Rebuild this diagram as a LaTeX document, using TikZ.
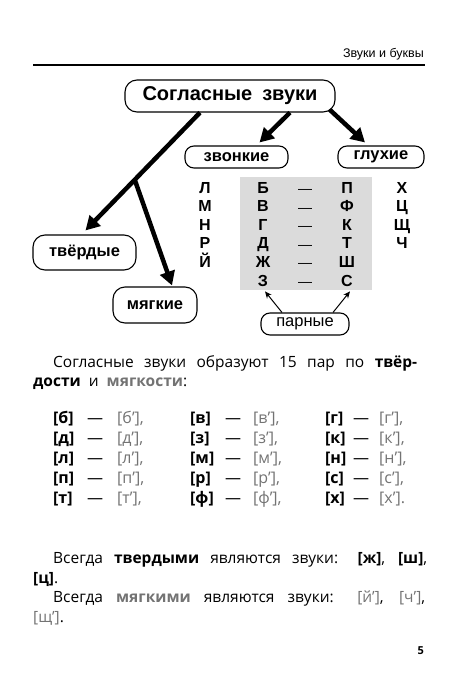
\documentclass[tikz,border=0pt]{standalone}
\usepackage{fontspec}
\setmainfont{Open Sans}
\newfontfamily\arialfont{Liberation Sans}
\usetikzlibrary{arrows.meta,calc}
\definecolor{softgray}{gray}{0.45}
\definecolor{pairgray}{gray}{0.86}
\begin{document}
\begin{tikzpicture}[x=1pt,y=-1pt]
\tikzstyle{soundBox}=[draw,rounded corners=9pt,line width=1.1pt,inner sep=0pt,font=\arialfont\bfseries\fontsize{16.5}{18}\selectfont]
\tikzstyle{bigArrow}=[line width=4.5pt,-{Triangle[length=14pt,width=15pt]}]
\tikzstyle{thinArrow}=[line width=1pt,-{Stealth[length=7pt,width=6pt]}]
\tikzstyle{letter}=[anchor=base,inner sep=0pt,font=\arialfont\bfseries\fontsize{16}{18}\selectfont]
\tikzstyle{textLine}=[anchor=base west,inner sep=0pt,font=\fontsize{15.5}{18}\selectfont]
\tikzstyle{pairCell}=[anchor=base west,inner sep=0pt,font=\fontsize{16}{18}\selectfont]
\useasboundingbox (0,0) rectangle (474,696);

%Page header
\node[anchor=base east,inner sep=0pt,font=\arialfont\fontsize{12.5}{14}\selectfont] (header) at (424,57) {Звуки и буквы};
\coordinate (ruleL) at (33,65);
\coordinate (ruleR) at (425,65);
\draw[line width=1.4pt] (ruleL) -- (ruleR);

%Scheme boxes
\node[soundBox,rounded corners=12pt,minimum width=210pt,minimum height=32pt,font=\arialfont\bfseries\fontsize{20}{22}\selectfont] (title) at (230,96) {Согласные\enspace звуки};
\node[soundBox,minimum width=103pt,minimum height=22pt] (zvon) at (236.5,157) {звонкие};
\node[soundBox,minimum width=86pt,minimum height=22pt]  (gluh) at (381,157) {глухие};
\node[soundBox,rounded corners=12pt,minimum width=103pt,minimum height=35pt] (tverd) at (84.5,252.5) {твёрдые};
\node[soundBox,rounded corners=12pt,minimum width=84pt,minimum height=36pt]  (myag) at (155,305) {мягкие};

%Paired letters background
\fill[pairgray] (240,177) rectangle (372,290);
\node[soundBox,font=\arialfont\fontsize{16.5}{18}\selectfont,minimum width=88pt,minimum height=22pt] (parn) at (305,324) {парные};

%Letters
\foreach \l [count=\i] in {Л,М,Н,Р,Й}
  \node[letter] (son\i) at (205,193+18.6*\i-18.6) {\l};
\foreach \l/\r [count=\i] in {Б/П,В/Ф,Г/К,Д/Т,Ж/Ш,З/С}{
  \node[letter] (voiced\i) at (263,193+18.6*\i-18.6) {\l};
  \node[letter,font=\arialfont\fontsize{14}{18}\selectfont] (dash\i) at (305,193.5+18.6*\i-18.6) {—};
  \node[letter] (voiceless\i) at (347,193+18.6*\i-18.6) {\r};
}
\foreach \l [count=\i] in {Х,Ц,Щ,Ч}
  \node[letter] (unp\i) at (402,193+18.6*\i-18.6) {\l};

%Scheme arrows
\coordinate (fromTitle) at ([xshift=-30pt]title.south);
\coordinate (split) at ($(fromTitle)!0.57!([xshift=1pt,yshift=4pt]tverd.north)$);
\draw[bigArrow] (fromTitle) -- ([xshift=1pt,yshift=4pt]tverd.north);
\draw[bigArrow] (split) -- ([xshift=17pt,yshift=1pt]myag.north);
\draw[bigArrow] ([xshift=60pt]title.south) -- ([xshift=23pt,yshift=3pt]zvon.north);
\draw[bigArrow] ([xshift=-6pt,yshift=3pt]title.south east) -- ([xshift=-16pt,yshift=3pt]gluh.north);
\draw[thinArrow] ([xshift=-23pt]parn.north) -- ([xshift=-40pt,yshift=-5pt]parn.north |- voiced6.south);
\draw[thinArrow] ([xshift=28pt]parn.north) -- ([xshift=45pt,yshift=-5pt]parn.north |- voiced6.south);

%Text about pairs
\node[textLine] (p1a) at (53,367) {\makebox[364pt][s]{Согласные звуки образуют 15 пар по \textbf{твёр-}}};
\node[textLine] (p1b) at (33,386) {\textbf{дости}\ \ и\ \ \textcolor{softgray}{\textbf{мягкости}}:};

%Pairs table
\foreach \h/\s [count=\i] in {{[б]}/{[б’],},{[д]}/{[д’],},{[л]}/{[л’],},{[п]}/{[п’],},{[т]}/{[т’],}}{
  \node[pairCell] (hardA\i) at (53,423+20*\i-20) {\textbf{\h}};
  \node[pairCell,anchor=base] (dashA\i) at (95,423+20*\i-20) {—};
  \node[pairCell,text=softgray] (softA\i) at (117,423+20*\i-20) {\s};
}
\foreach \h/\s [count=\i] in {{[в]}/{[в’],},{[з]}/{[з’],},{[м]}/{[м’],},{[р]}/{[р’],},{[ф]}/{[ф’],}}{
  \node[pairCell] (hardB\i) at (190,423+20*\i-20) {\textbf{\h}};
  \node[pairCell,anchor=base] (dashB\i) at (233,423+20*\i-20) {—};
  \node[pairCell,text=softgray] (softB\i) at (253,423+20*\i-20) {\s};
}
\foreach \h/\s [count=\i] in {{[г]}/{[г’],},{[к]}/{[к’],},{[н]}/{[н’],},{[с]}/{[с’],},{[х]}/{[х’].}}{
  \node[pairCell] (hardC\i) at (325,423+20*\i-20) {\textbf{\h}};
  \node[pairCell,anchor=base] (dashC\i) at (361,423+20*\i-20) {—};
  \node[pairCell,text=softgray] (softC\i) at (379,423+20*\i-20) {\s};
}

%Always hard / always soft
\node[textLine] (hard1) at (53,563) {\makebox[374pt][s]{Всегда \textbf{твердыми} являются звуки: \textbf{[ж]}, \textbf{[ш]},}};
\node[textLine] (hard2) at (33,583) {\textbf{[ц]}.};
\node[textLine] (soft1) at (53,602) {\makebox[372pt][s]{Всегда \textcolor{softgray}{\textbf{мягкими}} являются звуки: \textcolor{softgray}{[й’]}, \textcolor{softgray}{[ч’]},}};
\node[textLine] (soft2) at (33,622) {\textcolor{softgray}{[щ’]}.};

%Page number
\node[anchor=base east,inner sep=0pt,font=\bfseries\fontsize{11}{13}\selectfont] (pageNo) at (424,654) {5};

\end{tikzpicture}
\end{document}
